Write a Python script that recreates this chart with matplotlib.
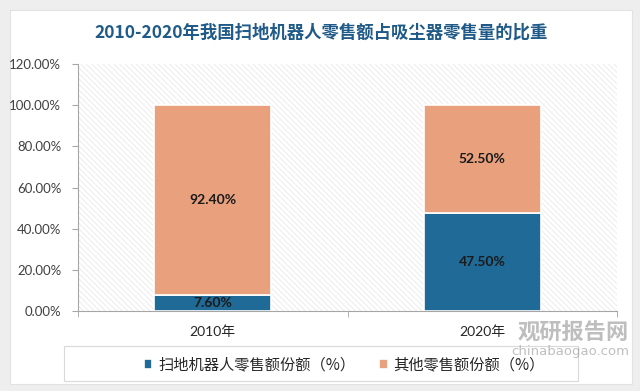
import matplotlib
matplotlib.use("Agg")
import matplotlib.pyplot as plt
from matplotlib.patches import Rectangle
import numpy as np

plt.rcParams['font.family'] = ['Lato', 'Noto Sans CJK SC', 'DejaVu Sans']
plt.rcParams['hatch.linewidth'] = 0.5

categories = ["2010年", "2020年"]
robot_share = [7.60, 47.50]
other_share = [92.40, 52.50]
series_names = ["扫地机器人零售额份额（%）", "其他零售额份额（%）"]
yticks = [0, 20, 40, 60, 80, 100, 120]
title = "2010-2020年我国扫地机器人零售额占吸尘器零售量的比重"

W, H = 640, 391
fig = plt.figure(figsize=(6.4, 3.91), dpi=100, facecolor='#eeeeee')

def fx(px):
    return px / W

def fy(py):
    return 1 - py / H

# white card
fig.patches.append(Rectangle((fx(10), fy(384)), fx(622), (374) / H,
                             transform=fig.transFigure, facecolor='white',
                             edgecolor='#e2e2e2', lw=0.8, zorder=-10))

ax = fig.add_axes([fx(78), fy(311), fx(617 - 78), (311 - 64) / H])
ax.set_zorder(2)
ax.patch.set_alpha(0)
# hatched plot background
ax.add_patch(Rectangle((0, 0), 1, 1, transform=ax.transAxes, facecolor='white',
                       edgecolor='#e6e6e6', hatch='\\\\\\\\\\\\', lw=0, zorder=0))

x = np.arange(len(categories))
bw = 0.434
blue = '#1f6a97'
orange = '#e9a17d'
b1 = ax.bar(x, robot_share, bw, color=blue, edgecolor='white', lw=1.2, zorder=2,
            label=series_names[0])
b2 = ax.bar(x, other_share, bw, bottom=robot_share, color=orange, edgecolor='white',
            lw=1.2, zorder=2, label=series_names[1])

for xi, r, o in zip(x, robot_share, other_share):
    ax.text(xi, r / 2, f"{r:.2f}%", ha='center', va='center', fontsize=10,
            fontweight='bold', color='#1a1a1a', zorder=3)
    ax.text(xi, r + o / 2, f"{o:.2f}%", ha='center', va='center', fontsize=10,
            fontweight='bold', color='#1a1a1a', zorder=3)

ax.set_xlim(-0.5, 1.5)
ax.set_ylim(0, 120)
ax.set_yticks(yticks)
ax.set_yticklabels([f"{v:.2f}%" for v in yticks], fontsize=9.5, color='#404040')
ax.set_xticks(x)
ax.set_xticklabels(categories, fontsize=10, color='#262626')
ax.set_xticks([-0.5, 0.5, 1.5], minor=True)
ax.tick_params(axis='x', which='major', length=0, pad=10)
ax.tick_params(axis='x', which='minor', length=4, color='#a6a6a6', direction='out')
ax.tick_params(axis='y', length=4, color='#a6a6a6', direction='out', pad=8)
for s in ['top', 'right']:
    ax.spines[s].set_visible(False)
ax.spines['left'].set_color('#a6a6a6')
ax.spines['bottom'].set_color('#a6a6a6')

fig.text(fx(321), fy(33), title, ha='center', va='center', fontsize=12.5,
         fontweight='bold', color='#1f5a88', family=['Noto Sans CJK SC'])

# legend box
fig.patches.append(Rectangle((fx(64), fy(381)), fx(578 - 64), (381 - 346) / H,
                             transform=fig.transFigure, facecolor='white',
                             edgecolor='#d9d9d9', lw=0.8, zorder=-5))

leg = fig.legend(handles=[b1, b2], labels=series_names, loc='center',
                 bbox_to_anchor=(fx(344.5), fy(365)), ncol=2, frameon=False,
                 handlelength=0.55, handleheight=0.55,
                 handletextpad=0.4, columnspacing=1.55,
                 prop={'family': ['Noto Sans CJK SC'], 'size': 11})
for t in leg.get_texts():
    t.set_color('#262626')

# watermark (semi-transparent, as in the reference)
fig.text(fx(629), fy(333), "观研报告网", ha='right', va='center', fontsize=16,
         fontweight='bold', color='#9c9c9c', alpha=0.65, family=['Noto Sans CJK SC'],
         zorder=6)
fig.text(fx(629), fy(351), "chinabaogao.com", ha='right', va='center', fontsize=9.5,
         color='#9c9c9c', alpha=0.65, family=['DejaVu Sans'], zorder=6)

fig.savefig("out.png", dpi=100, facecolor=fig.get_facecolor())
